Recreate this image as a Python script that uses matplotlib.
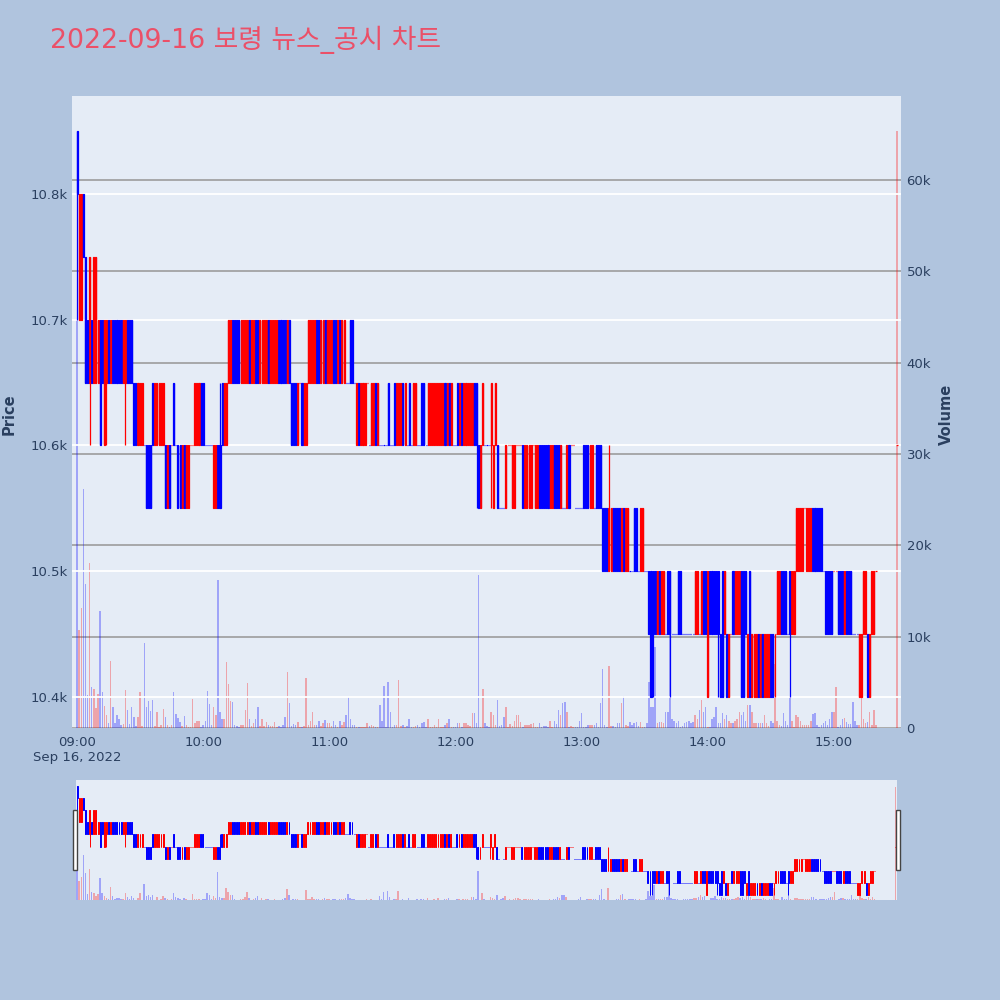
import numpy as np
import pandas as pd
import matplotlib.pyplot as plt
from matplotlib.patches import Rectangle

plt.rcParams['font.family'] = ['DejaVu Sans', 'Noto Sans CJK KR']

title = "2022-09-16 보령 뉴스_공시 차트"
times = list(pd.date_range('2022-09-16 09:00', '2022-09-16 15:20', freq='min')) + [pd.Timestamp('2022-09-16 15:30')]

opens = [
    10850, 10700, 10700, 10800, 10750, 10700, 10650, 10700, 10650, 10650,
    10650, 10700, 10700, 10600, 10650, 10700, 10650, 10700, 10700, 10700,
    10700, 10700, 10650, 10650, 10700, 10700, 10700, 10650, 10650, 10600,
    10600, 10600, 10600, 10600, 10600, 10600, 10650, 10600, 10600, 10600,
    10600, 10600, 10600, 10550, 10600, 10600, 10650, 10600, 10600, 10600,
    10550, 10600, 10550, 10550, 10600, 10600, 10600, 10600, 10600, 10650,
    10650, 10600, 10600, 10600, 10600, 10550, 10550, 10600, 10600, 10650,
    10600, 10600, 10650, 10650, 10700, 10700, 10700, 10700, 10650, 10650,
    10650, 10650, 10700, 10650, 10650, 10700, 10700, 10650, 10650, 10650,
    10650, 10700, 10650, 10650, 10650, 10650, 10700, 10700, 10700, 10700,
    10650, 10700, 10650, 10650, 10650, 10600, 10650, 10650, 10600, 10600,
    10650, 10650, 10650, 10650, 10700, 10700, 10650, 10650, 10700, 10650,
    10650, 10650, 10700, 10700, 10650, 10700, 10650, 10650, 10650, 10650,
    10700, 10700, 10650, 10600, 10650, 10600, 10600, 10600, 10650, 10600,
    10600, 10600, 10650, 10600, 10600, 10600, 10600, 10600, 10650, 10600,
    10600, 10650, 10600, 10600, 10600, 10650, 10600, 10600, 10650, 10600,
    10600, 10600, 10600, 10600, 10650, 10650, 10600, 10600, 10600, 10600,
    10600, 10600, 10600, 10600, 10600, 10650, 10600, 10650, 10600, 10600,
    10600, 10650, 10600, 10650, 10600, 10600, 10600, 10600, 10600, 10650,
    10650, 10600, 10550, 10600, 10600, 10600, 10600, 10600, 10550, 10600,
    10600, 10550, 10550, 10550, 10550, 10600, 10600, 10550, 10550, 10600,
    10600, 10600, 10600, 10550, 10550, 10550, 10550, 10600, 10550, 10550,
    10600, 10600, 10600, 10600, 10600, 10550, 10550, 10600, 10600, 10600,
    10550, 10550, 10550, 10550, 10600, 10600, 10600, 10550, 10550, 10550,
    10550, 10600, 10600, 10600, 10550, 10550, 10550, 10600, 10600, 10600,
    10550, 10550, 10550, 10500, 10500, 10550, 10550, 10550, 10550, 10500,
    10550, 10500, 10500, 10500, 10500, 10550, 10550, 10500, 10500, 10500,
    10500, 10500, 10500, 10500, 10500, 10500, 10450, 10500, 10450, 10450,
    10450, 10500, 10500, 10450, 10450, 10450, 10500, 10500, 10450, 10450,
    10450, 10450, 10450, 10450, 10450, 10450, 10450, 10450, 10500, 10500,
    10400, 10500, 10500, 10500, 10500, 10500, 10450, 10500, 10450, 10450,
    10400, 10450, 10500, 10450, 10450, 10450, 10500, 10500, 10500, 10400,
    10500, 10400, 10400, 10400, 10450, 10400, 10450, 10400, 10400, 10400,
    10450, 10450, 10450, 10450, 10450, 10500, 10500, 10500, 10450, 10500,
    10450, 10450, 10500, 10500, 10500, 10500, 10550, 10500, 10500, 10500,
    10550, 10550, 10550, 10550, 10550, 10500, 10500, 10500, 10500, 10500,
    10500, 10500, 10500, 10500, 10500, 10450, 10500, 10500, 10500, 10450,
    10450, 10450, 10400, 10400, 10450, 10450, 10450, 10400, 10450, 10450, 10500,
    10600,
]
closes = [
    10800, 10800, 10800, 10750, 10650, 10650, 10750, 10650, 10750, 10750,
    10700, 10600, 10650, 10700, 10700, 10650, 10700, 10650, 10650, 10650,
    10650, 10650, 10700, 10700, 10650, 10650, 10650, 10600, 10600, 10650,
    10650, 10650, 10600, 10550, 10550, 10550, 10600, 10650, 10650, 10650,
    10650, 10650, 10550, 10600, 10550, 10600, 10600, 10600, 10550, 10550,
    10600, 10550, 10600, 10600, 10600, 10600, 10650, 10650, 10650, 10600,
    10600, 10600, 10600, 10600, 10600, 10600, 10600, 10550, 10550, 10600,
    10650, 10650, 10700, 10700, 10650, 10650, 10650, 10650, 10700, 10700,
    10700, 10700, 10650, 10700, 10700, 10650, 10650, 10700, 10700, 10700,
    10700, 10650, 10700, 10700, 10700, 10700, 10650, 10650, 10650, 10650,
    10700, 10650, 10600, 10600, 10600, 10650, 10650, 10600, 10650, 10650,
    10700, 10700, 10700, 10700, 10650, 10650, 10700, 10700, 10650, 10700,
    10700, 10700, 10650, 10650, 10700, 10650, 10700, 10700, 10650, 10650,
    10650, 10650, 10650, 10650, 10600, 10650, 10650, 10650, 10650, 10600,
    10650, 10650, 10600, 10650, 10600, 10600, 10600, 10600, 10600, 10600,
    10600, 10600, 10650, 10650, 10650, 10600, 10650, 10600, 10600, 10600,
    10650, 10650, 10600, 10600, 10600, 10600, 10600, 10650, 10650, 10650,
    10650, 10650, 10650, 10650, 10650, 10600, 10650, 10600, 10650, 10600,
    10600, 10600, 10650, 10600, 10650, 10650, 10650, 10650, 10650, 10600,
    10600, 10550, 10600, 10650, 10600, 10600, 10600, 10650, 10600, 10650,
    10550, 10550, 10550, 10550, 10600, 10600, 10600, 10600, 10600, 10600,
    10600, 10600, 10550, 10600, 10600, 10600, 10600, 10600, 10600, 10600,
    10550, 10550, 10550, 10550, 10550, 10600, 10600, 10550, 10550, 10550,
    10600, 10550, 10550, 10600, 10550, 10600, 10600, 10550, 10550, 10550,
    10550, 10550, 10550, 10550, 10600, 10600, 10550, 10550, 10550, 10550,
    10500, 10500, 10500, 10550, 10550, 10500, 10500, 10500, 10500, 10550,
    10500, 10550, 10550, 10500, 10500, 10500, 10500, 10500, 10550, 10550,
    10500, 10500, 10450, 10400, 10450, 10450, 10500, 10450, 10500, 10500,
    10450, 10450, 10450, 10450, 10450, 10450, 10450, 10450, 10450, 10450,
    10450, 10450, 10450, 10450, 10500, 10500, 10450, 10500, 10450, 10450,
    10500, 10450, 10450, 10450, 10450, 10450, 10400, 10400, 10500, 10400,
    10450, 10450, 10450, 10500, 10500, 10500, 10400, 10400, 10450, 10450,
    10400, 10450, 10450, 10450, 10400, 10450, 10400, 10450, 10450, 10450,
    10400, 10400, 10450, 10500, 10500, 10450, 10450, 10450, 10450, 10450,
    10500, 10500, 10550, 10550, 10550, 10550, 10550, 10550, 10550, 10550,
    10500, 10500, 10500, 10500, 10500, 10500, 10450, 10450, 10450, 10450,
    10500, 10500, 10450, 10450, 10450, 10500, 10450, 10450, 10450, 10450,
    10450, 10450, 10450, 10450, 10500, 10500, 10400, 10450, 10500, 10500, 10500,
    10600,
]
highs = [
    10850, 10800, 10800, 10800, 10750, 10700, 10750, 10700, 10750, 10750,
    10700, 10700, 10700, 10700, 10700, 10700, 10700, 10700, 10700, 10700,
    10700, 10700, 10700, 10700, 10700, 10700, 10700, 10650, 10650, 10650,
    10650, 10650, 10600, 10600, 10600, 10600, 10650, 10650, 10650, 10650,
    10650, 10650, 10600, 10600, 10600, 10600, 10650, 10600, 10600, 10600,
    10600, 10600, 10600, 10600, 10600, 10600, 10650, 10650, 10650, 10650,
    10650, 10600, 10600, 10600, 10600, 10600, 10600, 10600, 10650, 10650,
    10650, 10650, 10700, 10700, 10700, 10700, 10700, 10700, 10700, 10700,
    10700, 10700, 10700, 10700, 10700, 10700, 10700, 10700, 10700, 10700,
    10700, 10700, 10700, 10700, 10700, 10700, 10700, 10700, 10700, 10700,
    10700, 10700, 10650, 10650, 10650, 10650, 10650, 10650, 10650, 10650,
    10700, 10700, 10700, 10700, 10700, 10700, 10700, 10700, 10700, 10700,
    10700, 10700, 10700, 10700, 10700, 10700, 10700, 10700, 10650, 10650,
    10700, 10700, 10650, 10650, 10650, 10650, 10650, 10650, 10650, 10600,
    10650, 10650, 10650, 10650, 10600, 10600, 10600, 10600, 10650, 10600,
    10600, 10650, 10650, 10650, 10650, 10650, 10650, 10600, 10650, 10600,
    10650, 10650, 10600, 10600, 10650, 10650, 10600, 10650, 10650, 10650,
    10650, 10650, 10650, 10650, 10650, 10650, 10650, 10650, 10650, 10600,
    10600, 10650, 10650, 10650, 10650, 10650, 10650, 10650, 10650, 10650,
    10650, 10600, 10600, 10650, 10600, 10600, 10600, 10650, 10600, 10650,
    10600, 10550, 10550, 10550, 10600, 10600, 10600, 10600, 10600, 10600,
    10600, 10600, 10600, 10600, 10600, 10600, 10600, 10600, 10600, 10600,
    10600, 10600, 10600, 10600, 10600, 10600, 10600, 10600, 10600, 10600,
    10600, 10550, 10550, 10600, 10600, 10600, 10600, 10550, 10550, 10550,
    10550, 10600, 10600, 10600, 10600, 10600, 10550, 10600, 10600, 10600,
    10550, 10550, 10550, 10600, 10550, 10550, 10550, 10550, 10550, 10550,
    10550, 10550, 10550, 10500, 10500, 10550, 10550, 10500, 10550, 10550,
    10500, 10500, 10500, 10500, 10500, 10500, 10500, 10500, 10500, 10500,
    10450, 10500, 10500, 10450, 10450, 10450, 10500, 10500, 10450, 10450,
    10450, 10450, 10450, 10450, 10500, 10500, 10450, 10500, 10500, 10500,
    10500, 10500, 10500, 10500, 10500, 10500, 10450, 10500, 10500, 10450,
    10450, 10450, 10500, 10500, 10500, 10500, 10500, 10500, 10500, 10450,
    10500, 10450, 10450, 10450, 10450, 10450, 10450, 10450, 10450, 10450,
    10450, 10450, 10450, 10500, 10500, 10500, 10500, 10500, 10450, 10500,
    10500, 10500, 10550, 10550, 10550, 10550, 10550, 10550, 10550, 10550,
    10550, 10550, 10550, 10550, 10550, 10500, 10500, 10500, 10500, 10500,
    10500, 10500, 10500, 10500, 10500, 10500, 10500, 10500, 10500, 10450,
    10450, 10450, 10450, 10450, 10500, 10500, 10450, 10450, 10500, 10500, 10500,
    10600,
]
lows = [
    10700, 10700, 10700, 10750, 10650, 10650, 10600, 10650, 10650, 10650,
    10650, 10600, 10650, 10600, 10600, 10650, 10650, 10650, 10650, 10650,
    10650, 10650, 10650, 10600, 10650, 10650, 10650, 10600, 10600, 10600,
    10600, 10600, 10600, 10550, 10550, 10550, 10600, 10600, 10600, 10600,
    10600, 10600, 10550, 10550, 10550, 10600, 10600, 10600, 10550, 10550,
    10550, 10550, 10550, 10550, 10600, 10600, 10600, 10600, 10600, 10600,
    10600, 10600, 10600, 10600, 10600, 10550, 10550, 10550, 10550, 10600,
    10600, 10600, 10650, 10650, 10650, 10650, 10650, 10650, 10650, 10650,
    10650, 10650, 10650, 10650, 10650, 10650, 10650, 10650, 10650, 10650,
    10650, 10650, 10650, 10650, 10650, 10650, 10650, 10650, 10650, 10650,
    10650, 10650, 10600, 10600, 10600, 10600, 10650, 10600, 10600, 10600,
    10650, 10650, 10650, 10650, 10650, 10650, 10650, 10650, 10650, 10650,
    10650, 10650, 10650, 10650, 10650, 10650, 10650, 10650, 10650, 10650,
    10650, 10650, 10650, 10600, 10600, 10600, 10600, 10600, 10650, 10600,
    10600, 10600, 10600, 10600, 10600, 10600, 10600, 10600, 10600, 10600,
    10600, 10600, 10600, 10600, 10600, 10600, 10600, 10600, 10600, 10600,
    10600, 10600, 10600, 10600, 10600, 10600, 10600, 10600, 10600, 10600,
    10600, 10600, 10600, 10600, 10600, 10600, 10600, 10600, 10600, 10600,
    10600, 10600, 10600, 10600, 10600, 10600, 10600, 10600, 10600, 10600,
    10550, 10550, 10550, 10600, 10600, 10600, 10600, 10550, 10550, 10600,
    10550, 10550, 10550, 10550, 10550, 10600, 10600, 10550, 10550, 10600,
    10600, 10600, 10550, 10550, 10550, 10550, 10550, 10600, 10550, 10550,
    10550, 10550, 10550, 10550, 10550, 10550, 10550, 10550, 10550, 10550,
    10550, 10550, 10550, 10550, 10550, 10600, 10600, 10550, 10550, 10550,
    10550, 10550, 10550, 10550, 10550, 10550, 10550, 10550, 10550, 10550,
    10500, 10500, 10500, 10500, 10500, 10500, 10500, 10500, 10500, 10500,
    10500, 10500, 10500, 10500, 10500, 10500, 10500, 10500, 10500, 10500,
    10500, 10500, 10450, 10400, 10400, 10450, 10450, 10450, 10450, 10450,
    10450, 10450, 10400, 10450, 10450, 10450, 10450, 10450, 10450, 10450,
    10450, 10450, 10450, 10450, 10450, 10450, 10450, 10450, 10450, 10450,
    10400, 10450, 10450, 10450, 10450, 10400, 10400, 10400, 10450, 10400,
    10400, 10450, 10450, 10450, 10450, 10450, 10400, 10400, 10450, 10400,
    10400, 10400, 10400, 10400, 10400, 10400, 10400, 10400, 10400, 10400,
    10400, 10400, 10400, 10450, 10450, 10450, 10450, 10450, 10450, 10400,
    10450, 10450, 10500, 10500, 10500, 10500, 10550, 10500, 10500, 10500,
    10500, 10500, 10500, 10500, 10500, 10500, 10450, 10450, 10450, 10450,
    10500, 10500, 10450, 10450, 10450, 10450, 10450, 10450, 10450, 10450,
    10450, 10450, 10400, 10400, 10450, 10450, 10400, 10400, 10450, 10450, 10500,
    10600,
]
volumes = [
    44700, 10700, 13100, 26200, 15800, 3600, 18100, 4500, 4300, 2200,
    3700, 12800, 3900, 2400, 1400, 500, 7300, 2300, 500, 1400,
    1000, 300, 400, 4200, 2000, 400, 2300, 1200, 200, 1200,
    3900, 200, 9300, 2300, 3000, 1900, 3100, 200, 1700, 100,
    300, 2100, 1200, 300, 100, 300, 3900, 1500, 1100, 700,
    200, 1300, 300, 100, 100, 3200, 500, 800, 800, 100,
    300, 800, 4100, 2600, 300, 2300, 1400, 16200, 1800, 1000,
    1000, 7200, 4800, 3000, 2800, 300, 200, 100, 300, 300,
    2000, 4900, 1000, 200, 500, 1000, 2300, 200, 1000, 200,
    700, 300, 200, 200, 700, 100, 200, 100, 300, 1200,
    6100, 2700, 200, 400, 300, 700, 100, 100, 200, 5500,
    300, 800, 1800, 300, 300, 800, 200, 500, 900, 600,
    500, 200, 800, 300, 100, 800, 300, 700, 1400, 3400,
    1000, 300, 300, 100, 100, 100, 100, 100, 500, 200,
    300, 200, 100, 100, 2500, 800, 4600, 100, 5000, 1800,
    100, 300, 300, 5300, 200, 300, 100, 200, 1000, 100,
    100, 200, 300, 100, 600, 700, 100, 1000, 100, 100,
    300, 100, 1000, 100, 100, 300, 500, 1000, 100, 100,
    100, 500, 600, 100, 600, 500, 300, 200, 1600, 1600,
    500, 16800, 100, 4300, 600, 200, 100, 1700, 1400, 300,
    3100, 200, 300, 1200, 2300, 100, 400, 200, 800, 1400,
    1400, 700, 100, 300, 300, 300, 400, 500, 100, 100,
    500, 100, 200, 200, 100, 800, 100, 800, 400, 2000,
    1400, 2700, 2900, 1800, 100, 200, 100, 100, 100, 800,
    1600, 100, 100, 300, 300, 300, 300, 500, 100, 2700,
    6500, 300, 100, 6800, 200, 200, 100, 500, 600, 2700,
    3500, 300, 200, 700, 300, 500, 700, 200, 700, 100,
    100, 600, 5000, 2300, 2300, 8900, 500, 700, 700, 500,
    1800, 1800, 12700, 1000, 800, 500, 800, 100, 200, 600,
    700, 800, 500, 700, 1400, 1000, 2000, 3100, 1800, 2300,
    100, 100, 1000, 1200, 2300, 500, 500, 1600, 1000, 1400,
    800, 500, 600, 800, 1000, 1800, 1400, 1800, 800, 2500,
    2500, 1800, 600, 500, 600, 600, 600, 1400, 500, 200,
    800, 600, 7000, 800, 300, 200, 1600, 800, 300, 3300,
    800, 100, 1400, 1200, 800, 300, 300, 300, 300, 800,
    1500, 1600, 300, 100, 300, 600, 800, 300, 1000, 1800,
    1800, 4500, 100, 300, 1000, 1100, 700, 400, 400, 2900,
    800, 300, 300, 3600, 1000, 600, 700, 1800, 300, 2000, 300,
    65400,
]
price_ticks = [10400, 10500, 10600, 10700, 10800]
price_labels = ['10.4k', '10.5k', '10.6k', '10.7k', '10.8k']
vol_ticks = [0, 10000, 20000, 30000, 40000, 50000, 60000]
vol_labels = ['0', '10k', '20k', '30k', '40k', '50k', '60k']
hour_labels = ['09:00', '10:00', '11:00', '12:00', '13:00', '14:00', '15:00']

assert len(opens) == len(closes) == len(highs) == len(lows) == len(volumes) == len(times)

x = np.array([(t - times[0]).total_seconds() / 60 for t in times])
o = np.array(opens, float)
c = np.array(closes, float)
h = np.array(highs, float)
l = np.array(lows, float)
v = np.array(volumes, float)

# direction like plotly: ties decided by the previous close
up = []
prev_c, prev_up = None, True
for oi, ci in zip(o, c):
    if ci > oi:
        d = True
    elif ci < oi:
        d = False
    elif prev_c is not None and ci != prev_c:
        d = ci > prev_c
    else:
        d = prev_up
    up.append(d)
    prev_c, prev_up = ci, d
up = np.array(up)
cols = np.where(up, '#FF0000', '#0000FF')
vcols = [(1, 0, 0, 0.3) if u else (0, 0, 1, 0.3) for u in up]

tick_color = '#2a3f5f'
plot_bg = '#E5ECF6'
price_lim = (10375.4, 10877.8)
vol_lim = (0, 69200)

fig = plt.figure(figsize=(10, 10), dpi=100)
fig.patch.set_facecolor('#B0C4DE')

# main chart: volume axis underneath, price axis on top
axv = fig.add_axes([0.072, 0.272, 0.829, 0.632])
ax = axv.twinx()
ax.yaxis.tick_left()
axv.yaxis.tick_right()
axv.set_facecolor(plot_bg)
ax.patch.set_visible(False)
ax.set_zorder(axv.get_zorder() + 1)

axv.bar(x, v, width=0.7, color=vcols, linewidth=0)
axv.axhline(0, color='white', lw=2, zorder=0.5)
axv.set_ylim(*vol_lim)
axv.set_yticks(vol_ticks)
axv.set_yticklabels(vol_labels)
axv.grid(axis='y', color='#9c9c9c', lw=1.2)
axv.set_axisbelow(True)

ax.vlines(x, l, h, colors=cols, lw=0.9)
ax.bar(x, np.abs(c - o), bottom=np.minimum(o, c), width=0.5,
       color=cols, edgecolor=cols, linewidth=0.9)
ax.set_ylim(*price_lim)
ax.set_yticks(price_ticks)
ax.set_yticklabels(price_labels)
ax.grid(axis='y', color='white', lw=1.3)
ax.set_axisbelow(True)

axv.set_xlim(-2.4, 391.9)
axv.set_xticks(np.arange(0, 361, 60))
axv.set_xticklabels(hour_labels)
for a in (ax, axv):
    for s in a.spines.values():
        s.set_visible(False)
    a.tick_params(length=0, labelcolor=tick_color, labelsize=9.5)
ax.tick_params(axis='y', pad=3)
axv.tick_params(axis='y', pad=4)
axv.tick_params(axis='x', pad=6)
axv.text(0, -0.047, 'Sep 16, 2022', transform=axv.get_xaxis_transform(),
         ha='center', va='center', fontsize=9.5, color=tick_color)

fig.text(0.009, 1 - 0.414, 'Price', rotation=90, ha='center', va='center',
         fontsize=10.5, fontweight='bold', color=tick_color)
fig.text(0.946, 1 - 0.414, 'Volume', rotation=90, ha='center', va='center',
         fontsize=10.5, fontweight='bold', color=tick_color)
fig.text(0.05, 1 - 0.040, title, ha='left', va='center', fontsize=19.3,
         color='#EB5068')

# range slider
sl = fig.add_axes([0.076, 0.100, 0.821, 0.120])
sl.set_facecolor(plot_bg)
slv = sl.twinx()
slv.bar(x, v, width=0.7, color=vcols, linewidth=0)
slv.set_ylim(*vol_lim)
sl.vlines(x, l, h, colors=cols, lw=0.7)
sl.bar(x, np.abs(c - o), bottom=np.minimum(o, c), width=0.45,
       color=cols, edgecolor=cols, linewidth=0.7)
sl.set_ylim(10379, 10875)
sl.set_xlim(-0.5, 390.7)
for a in (sl, slv):
    a.set_xticks([])
    a.set_yticks([])
    for s in a.spines.values():
        s.set_visible(False)
for hx in (0.0727, 0.8955):
    fig.patches.append(Rectangle((hx, 0.130), 0.0045, 0.060, transform=fig.transFigure,
                                 facecolor='white', edgecolor='#444444', lw=1))

fig.savefig('out.png', dpi=100, facecolor=fig.get_facecolor())
